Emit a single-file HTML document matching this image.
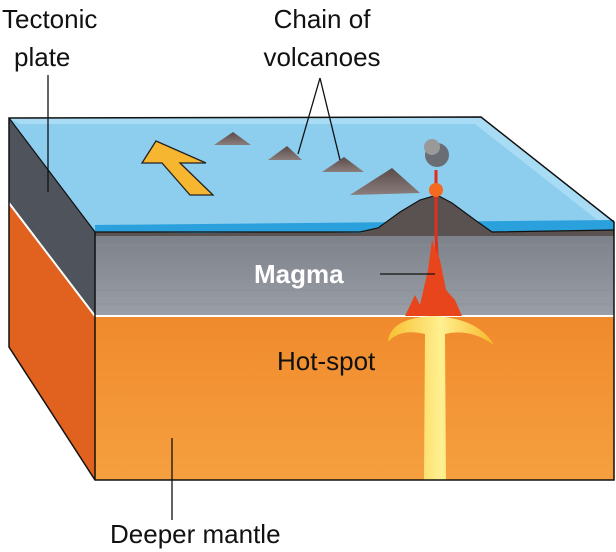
<!DOCTYPE html>
<html><head><meta charset="utf-8"><style>
html,body{margin:0;padding:0;background:#fff;width:616px;height:552px;overflow:hidden}
svg{display:block}
text{font-family:"Liberation Sans",sans-serif;}
</style></head><body>
<svg width="616" height="552" viewBox="0 0 616 552">
<defs>
<linearGradient id="gray" x1="0" y1="0" x2="0" y2="1">
<stop offset="0" stop-color="#7b7f88"/><stop offset="1" stop-color="#9a9ea6"/></linearGradient>
<linearGradient id="or" x1="0" y1="0" x2="0" y2="1">
<stop offset="0" stop-color="#f08a2c"/><stop offset="1" stop-color="#f5a040"/></linearGradient>
<linearGradient id="plume" x1="0" y1="0" x2="1" y2="0">
<stop offset="0" stop-color="#f7c030"/><stop offset="0.5" stop-color="#fff090"/><stop offset="1" stop-color="#f7b828"/></linearGradient>
<linearGradient id="mtn" x1="0" y1="0" x2="0" y2="1">
<stop offset="0" stop-color="#5a4a48"/><stop offset="1" stop-color="#8a7e7c"/></linearGradient>
</defs>
<polygon points="9,118 95,232 95,316 9,203" fill="#4e535c"/>
<polygon points="9,203 95,316 95,480 9,347" fill="#e0621e"/>
<line x1="9" y1="203" x2="95" y2="316" stroke="#fff" stroke-width="2"/>
<rect x="95" y="230" width="519" height="86" fill="url(#gray)"/>
<g stroke="#8a8e96" stroke-width="1" opacity="0.6">
<line x1="95" y1="245" x2="614" y2="245"/><line x1="95" y1="260" x2="614" y2="260"/><line x1="95" y1="275" x2="614" y2="275"/><line x1="95" y1="290" x2="614" y2="290"/><line x1="95" y1="304" x2="614" y2="304"/></g>
<rect x="95" y="316" width="519" height="164" fill="url(#or)"/>
<line x1="95" y1="316" x2="614" y2="316" stroke="#fff" stroke-width="2"/>
<polygon points="9,118 481,117 614,222 95,232" fill="#8dcdee"/>
<polygon points="9,118 481,117 614,222 600,222 475,124 20,124" fill="#a8dcf4"/>
<polygon points="95,225 614,220 614,232 95,234" fill="#2aa0dc"/>
<path d="M95,232 L200,233 L300,232 L360,233 L378,228 L400,212 L420,200 L437,195 L452,203 L475,220 L492,232 L614,230 L614,236 L95,236 Z" fill="#5a5250"/>
<path d="M95,232 L360,232 L378,228 L400,212 L420,200 L437,195 L452,203 L475,220 L492,232 L614,230" fill="none" stroke="#111" stroke-width="1.2"/>
<polygon points="214,145 233,132 251,145" fill="url(#mtn)"/>
<polygon points="268,160 287,146 302,160" fill="url(#mtn)"/>
<polygon points="322,172 344,157 364,172" fill="url(#mtn)"/>
<polygon points="350,195 392,168 420,193" fill="url(#mtn)"/>
<polygon points="156,141 206,163 180,163 213,195 190,195 162,163 142,163" fill="#f7b630" stroke="#222" stroke-width="1.3"/>
<circle cx="437" cy="155" r="12" fill="#6a6e74"/>
<circle cx="432" cy="147" r="8" fill="#999"/>
<path d="M436,170 L436,235 L440,316" stroke="#e0301a" stroke-width="3" fill="none"/>
<circle cx="436" cy="190" r="7" fill="#f36a20"/>
<polygon points="405,316 415,295 420,305 428,270 432,240 440,260 446,290 455,300 462,316" fill="#e8451c"/>
<path d="M388,342 Q390,318 433,316 Q478,318 494,345 Q470,328 445,334 L446,480 L424,480 L425,334 Q400,328 388,342 Z" fill="url(#plume)"/>
<polygon points="9,118 481,117 614,222 614,480 95,480 9,347" fill="none" stroke="#111" stroke-width="1.5"/>
<line x1="95" y1="232" x2="95" y2="480" stroke="#111" stroke-width="1.5"/>
<line x1="9" y1="118" x2="95" y2="232" stroke="#111" stroke-width="1.2"/>
<line x1="48" y1="75" x2="48" y2="192" stroke="#111" stroke-width="1.3"/>
<line x1="320" y1="78" x2="298" y2="154" stroke="#111" stroke-width="1.3"/>
<line x1="320" y1="78" x2="340" y2="160" stroke="#111" stroke-width="1.3"/>
<line x1="380" y1="274" x2="435" y2="274" stroke="#111" stroke-width="1.3"/>
<line x1="172" y1="438" x2="172" y2="520" stroke="#111" stroke-width="1.3"/>
<text x="2" y="28" font-size="26" fill="#111">Tectonic</text>
<text x="14" y="66" font-size="26" fill="#111">plate</text>
<text x="322" y="28" font-size="26" fill="#111" text-anchor="middle">Chain of</text>
<text x="322" y="66" font-size="26" fill="#111" text-anchor="middle">volcanoes</text>
<text x="254" y="283" font-size="26" font-weight="bold" fill="#fff" font-family="Liberation Serif">Magma</text>
<text x="277" y="370" font-size="26" fill="#111">Hot-spot</text>
<text x="110" y="543" font-size="26" fill="#111">Deeper mantle</text>
</svg>
</body></html>
